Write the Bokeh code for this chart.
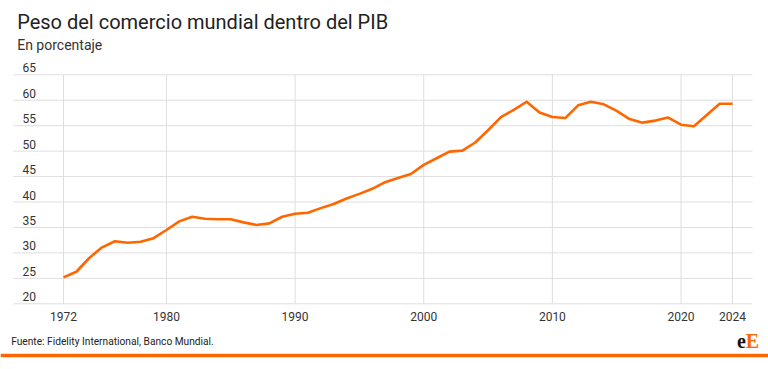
from bokeh.plotting import figure
from bokeh.models import Range1d, FixedTicker, Label
from bokeh.core.properties import value
from bokeh.embed import file_html
from bokeh.resources import INLINE

# ---------------- data ----------------
years = list(range(1972, 2025))
trade_share = [25.2, 26.3, 29.0, 31.1, 32.3, 32.0, 32.2, 32.9, 34.5, 36.2,
               37.1, 36.7, 36.6, 36.6, 36.0, 35.5, 35.8, 37.1, 37.7, 37.9,
               38.8, 39.6, 40.7, 41.6, 42.6, 43.9, 44.7, 45.5, 47.3, 48.6,
               49.9, 50.1, 51.7, 54.1, 56.7, 58.1, 59.7, 57.6, 56.7, 56.5,
               59.0, 59.7, 59.2, 57.9, 56.3, 55.6, 56.0, 56.6, 55.2, 54.9,
               57.1, 59.3, 59.3]
x_ticks = [1972, 1980, 1990, 2000, 2010, 2020, 2024]
y_ticks = [20, 25, 30, 35, 40, 45, 50, 55, 60, 65]

title_text = "Peso del comercio mundial dentro del PIB"
subtitle_text = "En porcentaje"
source_text = "Fuente: Fidelity International, Banco Mundial."

# ---------------- layout ----------------
W, H = 768, 369
PPY = 669 / 52.0          # pixels per year
X0_PX = 63.0              # pixel x of first year
PPU = 229 / 45.0          # pixels per percentage point
Y20_PX = 303.3            # pixel y of value 20 (from top)

x_start = 1972 - X0_PX / PPY
x_end = x_start + W / PPY
y_end = 20 + Y20_PX / PPU
y_start = y_end - H / PPU

def px_to_year(px):
    return x_start + px / PPY

ORANGE = "#ff6600"
GRID = "#dedede"
TEXT = "#333333"

p = figure(width=W, height=H, x_range=Range1d(x_start, x_end),
           y_range=Range1d(y_start, y_end), output_backend="svg",
           toolbar_location=None, min_border=0, y_axis_location=None,
           title=None, outline_line_color=None)
p.extra_x_ranges = {"px": Range1d(0, W)}
p.extra_y_ranges = {"px": Range1d(H, 0)}
p.grid.visible = False
p.background_fill_color = "white"
p.border_fill_color = "white"

# grid lines
gx0, gx1 = px_to_year(13), px_to_year(752)
p.segment(x0=[gx0] * len(y_ticks), y0=y_ticks, x1=[gx1] * len(y_ticks), y1=y_ticks,
          line_color=GRID, line_width=1)
p.segment(x0=x_ticks, y0=[y_ticks[0]] * len(x_ticks), x1=x_ticks,
          y1=[y_ticks[-1]] * len(x_ticks), line_color=GRID, line_width=1)

# y labels above gridlines
p.text(x=[px_to_year(22)] * len(y_ticks), y=y_ticks, text=[str(t) for t in y_ticks],
       text_font=value("Roboto"), text_font_size="12px", text_color=TEXT,
       text_align="left", text_baseline="alphabetic", y_offset=-7)

# x axis
ax = p.xaxis[0]
ax.fixed_location = 20
ax.ticker = FixedTicker(ticks=x_ticks)
ax.axis_line_color = None
ax.major_tick_line_color = None
ax.minor_tick_line_color = None
ax.major_tick_in = 0
ax.major_tick_out = 0
ax.major_label_standoff = 8
ax.major_label_text_font = "Roboto"
ax.major_label_text_font_size = "12px"
ax.major_label_text_color = TEXT

# data line
p.line(years, trade_share, line_color=ORANGE, line_width=2.6, line_join="round")

# texts
p.add_layout(Label(x=16.7, y=21.5, x_range_name="px", y_range_name="px", text=title_text,
                   text_font="Roboto", text_font_size="20px", text_color="#222222",
                   text_baseline="alphabetic"))
p.add_layout(Label(x=16.7, y=44.5, x_range_name="px", y_range_name="px", text=subtitle_text,
                   text_font="Roboto", text_font_size="14px", text_color="#333333",
                   text_baseline="alphabetic"))
p.add_layout(Label(x=10.7, y=340.5, x_range_name="px", y_range_name="px", text=source_text,
                   text_font="Roboto", text_font_size="10.2px", text_color="#222222",
                   text_baseline="alphabetic"))
p.add_layout(Label(x=758.7, y=340, x_range_name="px", y_range_name="px", text="E",
                   text_font="Liberation Serif", text_font_style="bold",
                   text_font_size="20px", text_color=ORANGE, text_align="right",
                   text_baseline="alphabetic"))
p.add_layout(Label(x=745.4, y=340, x_range_name="px", y_range_name="px", text="e",
                   text_font="Liberation Serif", text_font_style="bold",
                   text_font_size="20px", text_color="#111111", text_align="right",
                   text_baseline="alphabetic"))

# bottom orange rule
p.quad(left=0, right=W, top=353.3, bottom=356.7, x_range_name="px", y_range_name="px",
       fill_color=ORANGE, line_color=None)

open("out.html", "w").write(file_html(p, INLINE))
